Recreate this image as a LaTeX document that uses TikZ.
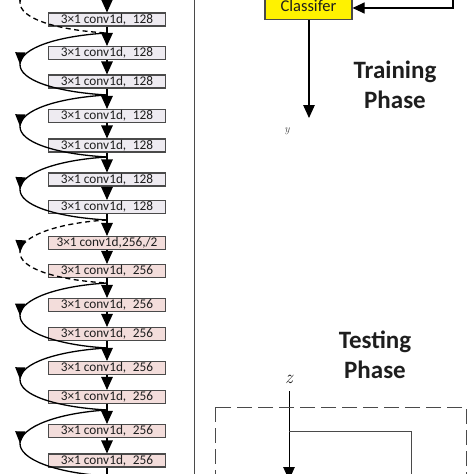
\documentclass[tikz,border=0pt]{standalone}
\usepackage{fontspec}
\setsansfont{Carlito}
\usetikzlibrary{arrows.meta,decorations.markings}
\definecolor{gbox}{HTML}{EEEBF1}
\definecolor{pbox}{HTML}{F3DDDB}
\definecolor{bord}{HTML}{4A4A4A}
\definecolor{ink}{HTML}{1E1E1E}
\begin{document}
\begin{tikzpicture}[x=1pt,y=-1pt,
  convbox/.style={draw=bord, line width=1.1pt, minimum width=117pt, minimum height=13pt, inner sep=0pt,
    font=\sffamily\fontsize{13.3}{13}\selectfont, text=ink},
  boxA/.style={convbox, fill=gbox},
  boxB/.style={convbox, fill=pbox},
  mainarr/.style={line width=1.1pt, draw=black, -{Triangle[length=13pt,width=11.5pt]}},
  skipline/.style={line width=1.3pt, draw=black, postaction={decorate},
    decoration={markings, mark=at position 0.5 with {\arrow{Triangle[length=12pt,width=10pt]}}}},
  dskipline/.style={skipline, dash pattern=on 5pt off 3.5pt},
  phase/.style={font=\sffamily\bfseries\fontsize{25}{30}\selectfont, text=ink, align=center},
  thinline/.style={line width=0.9pt, draw=bord}
]
\useasboundingbox (0,0) rectangle (474,474);
\clip (0,0) rectangle (474,474);

% conv boxes
\node[boxA] (b1) at (107,19.5) {3×1 conv1d,\hspace{0.5em}128};
\node[boxA] (b2) at (107,53) {3×1 conv1d,\hspace{0.5em}128};
\node[boxA] (b3) at (107,81.5) {3×1 conv1d,\hspace{0.5em}128};
\node[boxA] (b4) at (107,116) {3×1 conv1d,\hspace{0.5em}128};
\node[boxA] (b5) at (107,145.5) {3×1 conv1d,\hspace{0.5em}128};
\node[boxA] (b6) at (107,179.5) {3×1 conv1d,\hspace{0.5em}128};
\node[boxA] (b7) at (107,207) {3×1 conv1d,\hspace{0.5em}128};
\node[boxB] (b8) at (107,243) {3×1 conv1d,256,/2};
\node[boxB] (b9) at (107,271) {3×1 conv1d,\hspace{0.5em}256};
\node[boxB] (b10) at (107,305) {3×1 conv1d,\hspace{0.5em}256};
\node[boxB] (b11) at (107,334) {3×1 conv1d,\hspace{0.5em}256};
\node[boxB] (b12) at (107,368) {3×1 conv1d,\hspace{0.5em}256};
\node[boxB] (b13) at (107,397) {3×1 conv1d,\hspace{0.5em}256};
\node[boxB] (b14) at (107,431) {3×1 conv1d,\hspace{0.5em}256};
\node[boxB] (b15) at (107,460.5) {3×1 conv1d,\hspace{0.5em}256};

% junction points
\coordinate (top) at (107,-8);
\coordinate (bot) at (107,480);
\coordinate (j0) at (107,-29);
\coordinate (j1) at (107,33);
\coordinate (j2) at (107,95);
\coordinate (j3) at (107,157);
\coordinate (j4) at (107,220);
\coordinate (j5) at (107,283);
\coordinate (j6) at (107,348);
\coordinate (j7) at (107,410);
\coordinate (j8) at (107,476);
\coordinate (m0) at (20,2);
\coordinate (m1) at (20,64);
\coordinate (m2) at (20,126);
\coordinate (m3) at (20,189);
\coordinate (m4) at (20,252);
\coordinate (m5) at (20,315);
\coordinate (m6) at (20,379);
\coordinate (m7) at (20,443);

% main line
\draw[mainarr] (top) -- (b1.north);
\foreach \a/\b in {b1/b2,b2/b3,b3/b4,b4/b5,b5/b6,b6/b7,b7/b8,b8/b9,b9/b10,b10/b11,b11/b12,b12/b13,b13/b14,b14/b15}
  \draw[mainarr] (\a.south) -- (\b.north);
\draw[line width=1.1pt] (b15.south) -- (bot);

% skip connections
\draw[dskipline] (j0) .. controls +(-50,3) and +(1,-16) .. (m0) .. controls +(-1,16) and +(-52,-3) .. (j1);
\draw[skipline] (j1) .. controls +(-50,3) and +(1,-16) .. (m1) .. controls +(-1,16) and +(-52,-3) .. (j2);
\draw[skipline] (j2) .. controls +(-50,3) and +(1,-16) .. (m2) .. controls +(-1,16) and +(-52,-3) .. (j3);
\draw[skipline] (j3) .. controls +(-50,3) and +(1,-16) .. (m3) .. controls +(-1,16) and +(-52,-3) .. (j4);
\draw[dskipline] (j4) .. controls +(-50,3) and +(1,-16) .. (m4) .. controls +(-1,16) and +(-52,-3) .. (j5);
\draw[skipline] (j5) .. controls +(-50,3) and +(1,-16) .. (m5) .. controls +(-1,16) and +(-52,-3) .. (j6);
\draw[skipline] (j6) .. controls +(-50,3) and +(1,-16) .. (m6) .. controls +(-1,16) and +(-52,-3) .. (j7);
\draw[skipline] (j7) .. controls +(-50,3) and +(1,-16) .. (m7) .. controls +(-1,16) and +(-52,-3) .. (j8);

% divider
\coordinate (dtop) at (194,-2);
\coordinate (dbot) at (194,476);
\draw[thinline] (dtop) -- (dbot);

% training phase
\node[draw=bord, line width=1.1pt, fill=yellow, minimum width=87pt, minimum height=27pt, inner sep=0pt,
  font=\sffamily\fontsize{16.5}{18}\selectfont, text=ink] (cls) at (308.5,6) {\raisebox{-2pt}{Classifer}};
\coordinate (fb1) at (453,-10);
\coordinate (fb2) at (453,8);
\draw[line width=1.1pt, -{Triangle[length=12pt,width=11pt]}] (fb1) -- (fb2) -- (cls.east |- fb2);
\coordinate (yend) at (309,118);
\draw[line width=1.1pt, -{Triangle[length=13pt,width=11.5pt]}] (cls.south -| yend) -- (yend);
\node[font=\itshape\fontsize{11}{12}\selectfont, text=black!75] (ylab) at (287,131) {y};
\node[phase] (train) at (395,85) {Training\\Phase};

% testing phase
\node[phase] (test) at (375,355) {Testing\\Phase};
\node[font=\itshape\fontsize{19}{20}\selectfont, text=ink] (zlab) at (289,379) {z};
\coordinate (zend) at (289,480);
\draw[line width=0.9pt, -{Triangle[length=13pt,width=11.5pt]}] (289,391) -- (zend);
\coordinate (r1) at (215,407);
\coordinate (r2) at (466,500);
\draw[line width=1pt, draw=bord, dash pattern=on 15pt off 6pt] (r1) rectangle (r2);
\coordinate (h1) at (289,431);
\coordinate (h2) at (411,431);
\coordinate (h3) at (411,490);
\draw[thinline] (h1) -- (h2) -- (h3);
\end{tikzpicture}
\end{document}
